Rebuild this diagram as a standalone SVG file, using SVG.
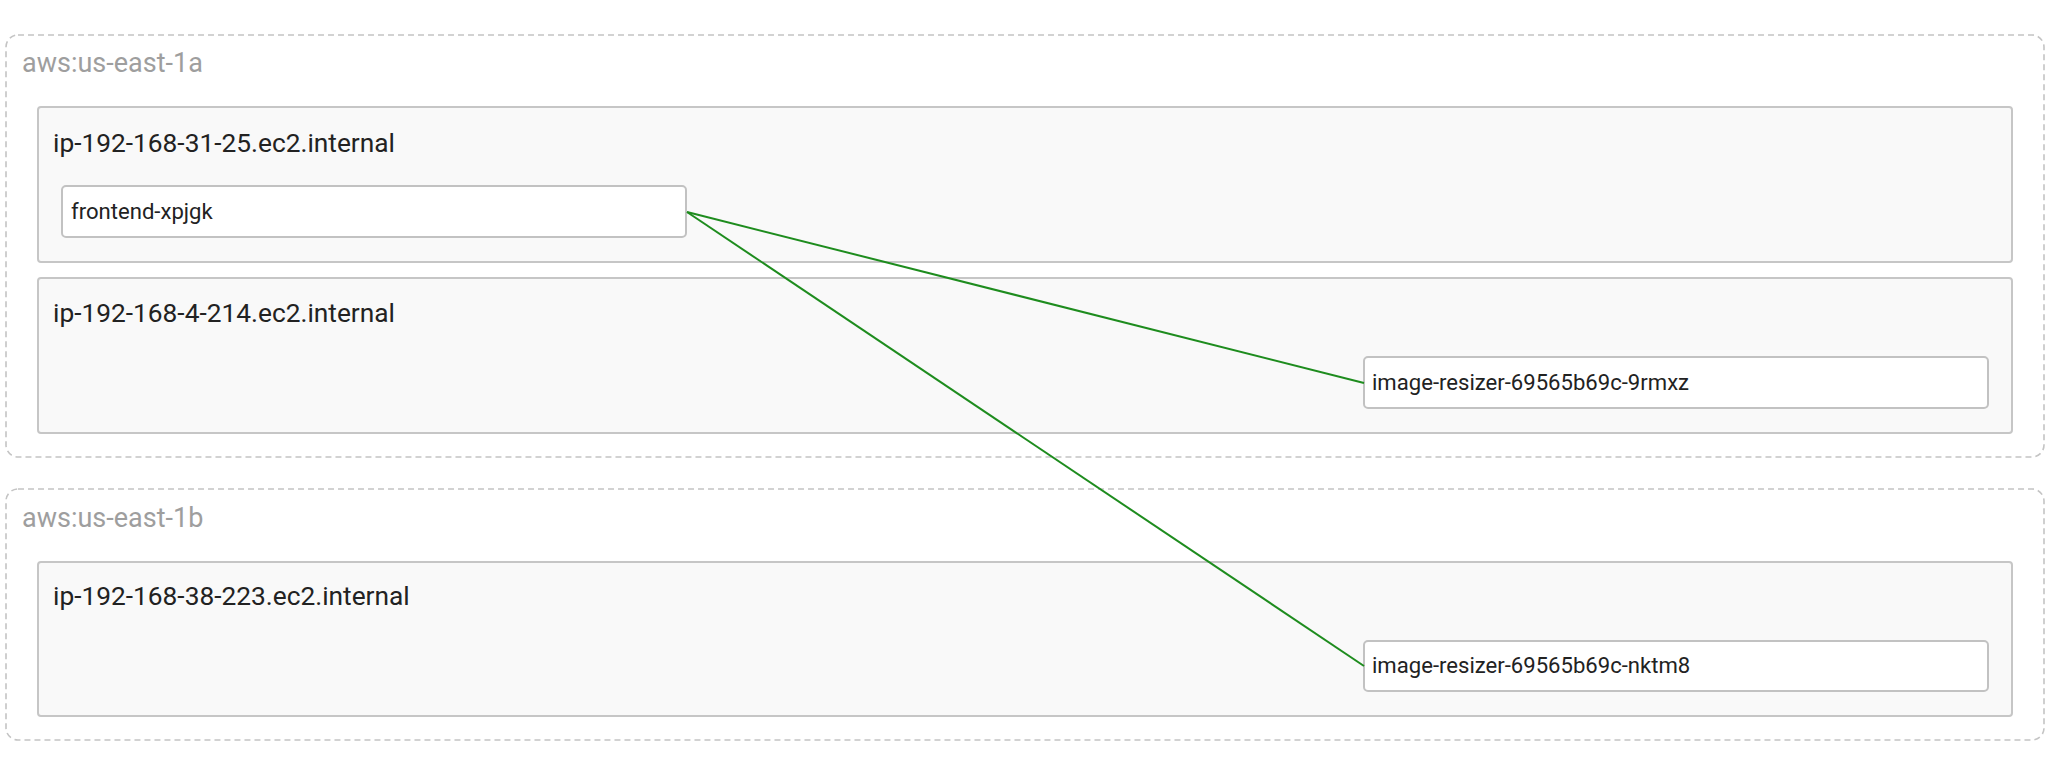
<svg xmlns="http://www.w3.org/2000/svg" width="2048" height="775" viewBox="0 0 2048 775">
<style>
.zone{fill:#ffffff;stroke:#c4c4c4;stroke-width:1.6;stroke-dasharray:6 4}
.zlabel{font-family:Roboto,"Liberation Sans",sans-serif;font-size:27px;fill:#9e9e9e}
.node{fill:#f9f9f9;stroke:#c6c6c6;stroke-width:2}
.nlabel{font-family:Roboto,"Liberation Sans",sans-serif;font-size:26.3px;fill:#222222}
.pod{fill:#ffffff;stroke:#c2c2c2;stroke-width:2}
.plabel{font-family:Roboto,"Liberation Sans",sans-serif;font-size:22.1px;fill:#222222}
.edge{stroke:#1e8c1e;stroke-width:2;fill:none}
</style>
<rect width="2048" height="775" fill="#ffffff"/>
<g id="zone-us-east-1a">
<rect class="zone" x="6" y="35" width="2038" height="422" rx="12"/>
<text class="zlabel" x="22" y="72">aws:us-east-1a</text>
</g>
<g id="zone-us-east-1b">
<rect class="zone" x="6" y="489" width="2038" height="251" rx="12"/>
<text class="zlabel" x="22" y="527">aws:us-east-1b</text>
</g>
<g id="node-ip-192-168-31-25">
<rect class="node" x="38" y="107" width="1974" height="155" rx="3"/>
<text class="nlabel" x="53" y="152">ip-192-168-31-25.ec2.internal</text>
</g>
<g id="node-ip-192-168-4-214">
<rect class="node" x="38" y="278" width="1974" height="155" rx="3"/>
<text class="nlabel" x="53" y="322">ip-192-168-4-214.ec2.internal</text>
</g>
<g id="node-ip-192-168-38-223">
<rect class="node" x="38" y="562" width="1974" height="154" rx="3"/>
<text class="nlabel" x="53" y="605">ip-192-168-38-223.ec2.internal</text>
</g>
<g id="pod-frontend-xpjgk">
<rect class="pod" x="62" y="186" width="624" height="51" rx="4"/>
<text class="plabel" x="71" y="219">frontend-xpjgk</text>
</g>
<g id="pod-image-resizer-9rmxz">
<rect class="pod" x="1364" y="357" width="624" height="51" rx="4"/>
<text class="plabel" x="1372" y="390">image-resizer-69565b69c-9rmxz</text>
</g>
<g id="pod-image-resizer-nktm8">
<rect class="pod" x="1364" y="641" width="624" height="50" rx="4"/>
<text class="plabel" x="1372" y="673">image-resizer-69565b69c-nktm8</text>
</g>
<g id="connectors">
<line class="edge" x1="687" y1="212" x2="1364" y2="383"/>
<line class="edge" x1="687" y1="212" x2="1364" y2="666"/>
</g>
</svg>
